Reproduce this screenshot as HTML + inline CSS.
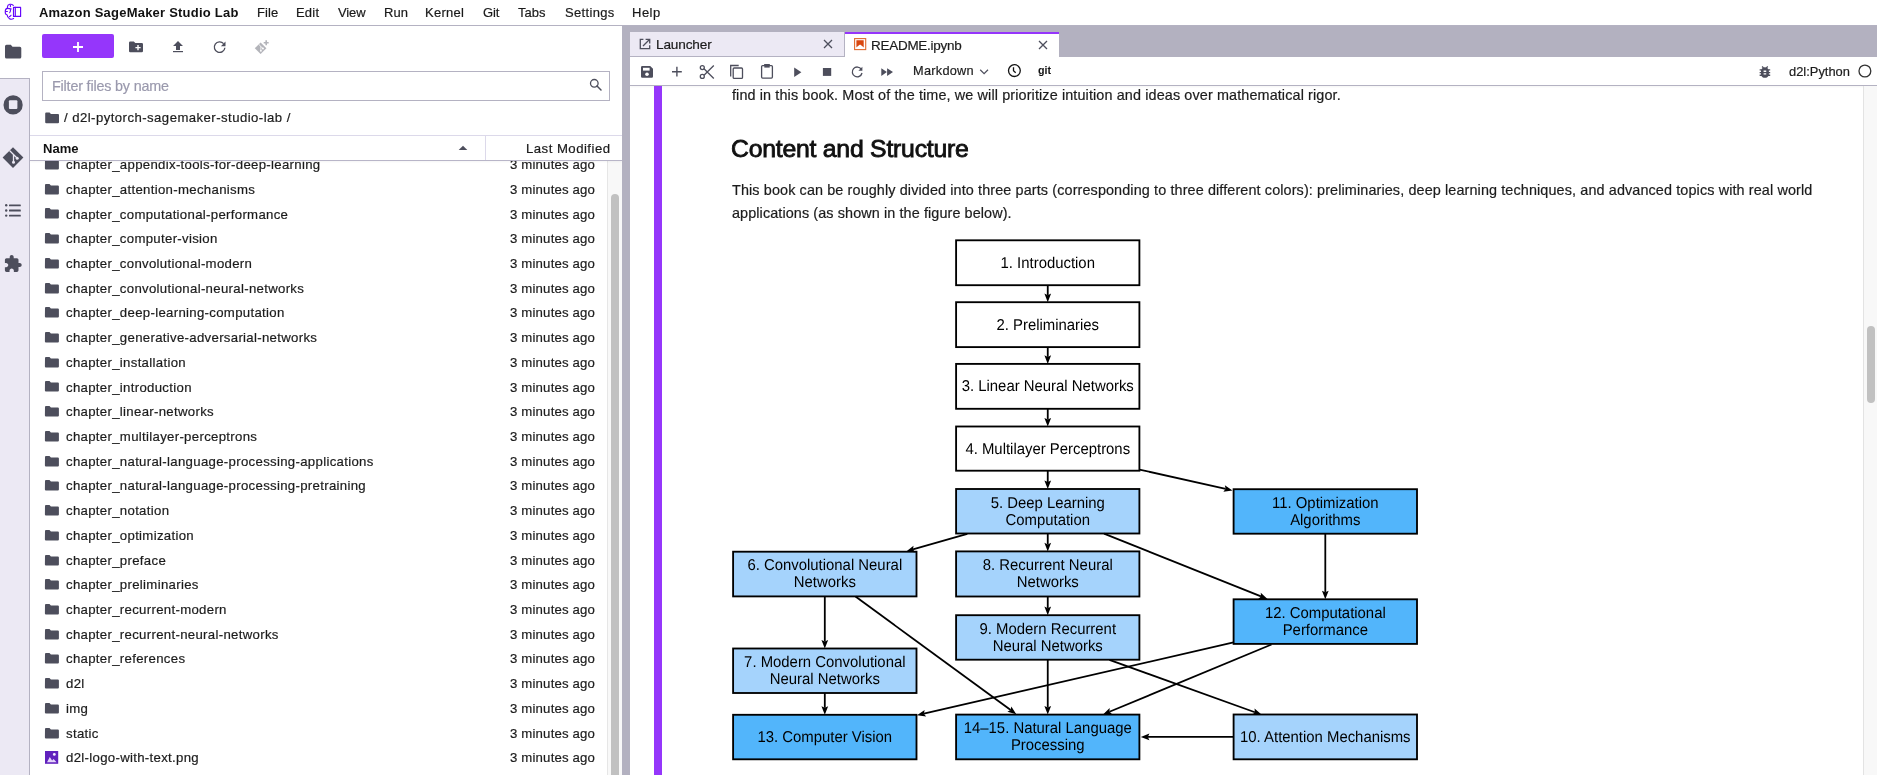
<!DOCTYPE html>
<html><head><meta charset="utf-8">
<style>
*{box-sizing:border-box;margin:0;padding:0}
html,body{width:1877px;height:775px;overflow:hidden;background:#fff;font-family:"Liberation Sans",sans-serif;color:#1f1f1f;position:relative;-webkit-font-smoothing:antialiased}
.a{position:absolute}
.t{position:absolute;white-space:nowrap;line-height:1;will-change:transform;-webkit-text-stroke:0.2px currentColor}
svg{position:absolute;overflow:visible}
.menu{font-size:13px;color:#222}
.fn{position:absolute;left:66.6px;font-size:13.4px;letter-spacing:0.2px;white-space:nowrap;color:#1e1e1e;line-height:1}
.fd{position:absolute;left:509.7px;font-size:13.4px;white-space:nowrap;color:#1e1e1e;letter-spacing:0.1px;line-height:1}
.ic{fill:#4d4e5c}
</style></head><body>
<!-- MENU BAR -->
<div class="a" style="left:0;top:25px;width:1877px;height:1px;background:#b4b2c2"></div>
<svg style="left:0;top:0" width="26" height="24" fill="none" stroke="#6405fb" stroke-width="1.15" stroke-linecap="round" stroke-linejoin="round">
  <path d="M13.3 5.4C12.3 4.5 11 4.1 9.8 4.3 8.4 4.6 7.5 5.6 7.4 7v1.4C6.2 8.6 5.3 9.6 5.3 11v2c0 .9.7 1.5 1.6 1.8l.3.3c0 1.6.9 2.8 2.3 3.6 1.2.7 2.8.6 4.1-.1"/>
  <path d="M10.4 5v1.6M7.4 8.4c1.4 0 2.8.1 3.8.6M5.8 11.5h1.6M10.3 9.4c.4 1 .4 2.2-.6 3.2M11 15.3c-.4.7-1 1.1-1.6 1.3"/>
  <rect x="13.5" y="7.4" width="7.1" height="9"/>
  <path d="M15.3 7.4v9"/>
</svg>
<!-- LEFT SIDEBAR -->
<div class="a" style="left:0;top:78px;width:30px;height:697px;background:#ece9f4;border-top:1px solid #b4b2c2;border-right:1px solid #b4b2c2"></div>
<svg style="left:0;top:26px" width="30" height="260" class="ic">
  <!-- folder -->
  <path d="M5 20.3a1.5 1.5 0 0 1 1.5-1.5h4.3l1.7 1.9h7.3a1.5 1.5 0 0 1 1.5 1.5v8.9a1.5 1.5 0 0 1-1.5 1.5h-13.3a1.5 1.5 0 0 1-1.5-1.5z"/>
  <!-- stop circle -->
  <circle cx="13.1" cy="78.9" r="9.6"/>
  <rect x="8.9" y="74.3" width="8.5" height="8.8" rx="1" fill="#ece9f4"/>
  <!-- git diamond -->
  <path d="M13 121.2l10.4 10.4-10.4 10.4-10.4-10.4z"/>
  <path d="M9.5 124.5l4 4M13.5 128.5v8M13.5 128.5l3.5 3.5" stroke="#ece9f4" stroke-width="1.3" fill="none"/>
  <circle cx="13.5" cy="136.3" r="1.5" fill="#ece9f4"/>
  <circle cx="17.2" cy="132.2" r="1.5" fill="#ece9f4"/>
  <!-- list -->
  <circle cx="6.2" cy="179.3" r="1.2"/><circle cx="6.2" cy="184.5" r="1.2"/><circle cx="6.2" cy="189.6" r="1.2"/>
  <rect x="9" y="178.4" width="11.8" height="1.9" rx=".5"/><rect x="9" y="183.6" width="11.8" height="1.9" rx=".5"/><rect x="9" y="188.7" width="11.8" height="1.9" rx=".5"/>
  <!-- puzzle -->
  <path transform="translate(3.3,228.3) scale(0.8)" d="M20.5 11H19V7c0-1.1-.9-2-2-2h-4V3.5C13 2.120 11.880 1 10.500 1S8 2.120 8 3.500V5H4c-1.100 0-1.990.9-1.990 2v3.800H3.500c1.490 0 2.700 1.210 2.700 2.700s-1.210 2.700-2.700 2.700H2V20c0 1.100.9 2 2 2h3.800v-1.500c0-1.490 1.210-2.700 2.700-2.700 1.490 0 2.700 1.210 2.700 2.700V22H17c1.100 0 2-.9 2-2v-4h1.500c1.380 0 2.500-1.120 2.500-2.500S21.880 11 20.500 11z"/>
</svg>
<!-- FILE BROWSER -->
<!-- launcher button -->
<div class="a" style="left:42px;top:34px;width:72px;height:24px;background:#9536fb;border-radius:2px"></div>
<svg style="left:71px;top:39.5px" width="14" height="14"><path d="M7 2v10M2 7h10" stroke="#fff" stroke-width="1.8"/></svg>
<svg style="left:0;top:0" width="300" height="60" class="ic">
  <!-- new folder -->
  <path d="M129 42.8a1.2 1.2 0 0 1 1.2-1.2h3.6l1.5 1.5h6.5a1.2 1.2 0 0 1 1.2 1.2v6.7a1.2 1.2 0 0 1-1.2 1.2h-11.6a1.2 1.2 0 0 1-1.2-1.2z"/>
  <path d="M138 45v5.2M135.4 47.6h5.2" stroke="#fff" stroke-width="1.4"/>
  <!-- upload -->
  <path d="M178 40.9l-5 5.2h3v4h4v-4h3z"/><rect x="173" y="51" width="10" height="1.2"/>
  <!-- refresh -->
  <path d="M223.6 43.6a5.3 5.3 0 1 0 1.3 4.1" fill="none" stroke="#4d4e5c" stroke-width="1.3"/>
  <path d="M225.5 41.6v4.6h-4.6z"/>
  <!-- git clone (disabled) -->
  <g opacity=".42"><g transform="translate(260.6,48.2) scale(0.56) translate(-13,-131.6)"><path d="M13 121.2l10.4 10.4-10.4 10.4-10.4-10.4z"/><path d="M9.5 124.5l4 4M13.5 128.5v8M13.5 128.5l3.5 3.5" stroke="#fff" stroke-width="1.5" fill="none"/><circle cx="13.5" cy="136.3" r="1.7" fill="#fff"/><circle cx="17.2" cy="132.2" r="1.7" fill="#fff"/></g><path d="M266.2 40.2v5M263.7 42.7h5" stroke="#4d4e5c" stroke-width="1.6"/></g>
</svg>
<!-- filter -->
<div class="a" style="left:42px;top:71px;width:568px;height:30px;border:1px solid #b4b2c2;background:#fff"></div>
<svg style="left:586px;top:76px" width="20" height="20"><circle cx="8.3" cy="7.3" r="3.8" fill="none" stroke="#4d4e5c" stroke-width="1.3"/><path d="M11 10l4 4" stroke="#4d4e5c" stroke-width="1.5" stroke-linecap="round"/></svg>
<!-- breadcrumb -->
<svg style="left:0;top:0" width="70" height="130" class="ic"><path d="M45.2 113.6a1 1 0 0 1 1-1h3.4l1.3 1.4h7.1a1 1 0 0 1 1 1v7.2a1 1 0 0 1-1 1h-11.8a1 1 0 0 1-1-1z"/></svg>
<!-- header -->
<div class="a" style="left:30px;top:135px;width:592px;height:1px;background:#dcd9ea"></div>
<div class="a" style="left:485px;top:136px;width:1px;height:24px;background:#dcd9ea"></div>
<svg style="left:458px;top:145px" width="10" height="6"><path d="M0.7 5h8.6L5 0.7z" fill="#4d4e5c"/></svg>

<div class="a" style="left:30px;top:160px;width:592px;height:615px;overflow:hidden">
<svg style="left:15.1px;top:-1.02px" width="15" height="11" class="ic"><path d="M0 1a1 1 0 0 1 1-1h3.5l1.4 1.4h7a1 1 0 0 1 1 1v7a1 1 0 0 1-1 1h-12a1 1 0 0 1-1-1z"/></svg>
<svg style="left:15.1px;top:23.70px" width="15" height="11" class="ic"><path d="M0 1a1 1 0 0 1 1-1h3.5l1.4 1.4h7a1 1 0 0 1 1 1v7a1 1 0 0 1-1 1h-12a1 1 0 0 1-1-1z"/></svg>
<svg style="left:15.1px;top:48.42px" width="15" height="11" class="ic"><path d="M0 1a1 1 0 0 1 1-1h3.5l1.4 1.4h7a1 1 0 0 1 1 1v7a1 1 0 0 1-1 1h-12a1 1 0 0 1-1-1z"/></svg>
<svg style="left:15.1px;top:73.14px" width="15" height="11" class="ic"><path d="M0 1a1 1 0 0 1 1-1h3.5l1.4 1.4h7a1 1 0 0 1 1 1v7a1 1 0 0 1-1 1h-12a1 1 0 0 1-1-1z"/></svg>
<svg style="left:15.1px;top:97.86px" width="15" height="11" class="ic"><path d="M0 1a1 1 0 0 1 1-1h3.5l1.4 1.4h7a1 1 0 0 1 1 1v7a1 1 0 0 1-1 1h-12a1 1 0 0 1-1-1z"/></svg>
<svg style="left:15.1px;top:122.58px" width="15" height="11" class="ic"><path d="M0 1a1 1 0 0 1 1-1h3.5l1.4 1.4h7a1 1 0 0 1 1 1v7a1 1 0 0 1-1 1h-12a1 1 0 0 1-1-1z"/></svg>
<svg style="left:15.1px;top:147.30px" width="15" height="11" class="ic"><path d="M0 1a1 1 0 0 1 1-1h3.5l1.4 1.4h7a1 1 0 0 1 1 1v7a1 1 0 0 1-1 1h-12a1 1 0 0 1-1-1z"/></svg>
<svg style="left:15.1px;top:172.02px" width="15" height="11" class="ic"><path d="M0 1a1 1 0 0 1 1-1h3.5l1.4 1.4h7a1 1 0 0 1 1 1v7a1 1 0 0 1-1 1h-12a1 1 0 0 1-1-1z"/></svg>
<svg style="left:15.1px;top:196.74px" width="15" height="11" class="ic"><path d="M0 1a1 1 0 0 1 1-1h3.5l1.4 1.4h7a1 1 0 0 1 1 1v7a1 1 0 0 1-1 1h-12a1 1 0 0 1-1-1z"/></svg>
<svg style="left:15.1px;top:221.46px" width="15" height="11" class="ic"><path d="M0 1a1 1 0 0 1 1-1h3.5l1.4 1.4h7a1 1 0 0 1 1 1v7a1 1 0 0 1-1 1h-12a1 1 0 0 1-1-1z"/></svg>
<svg style="left:15.1px;top:246.18px" width="15" height="11" class="ic"><path d="M0 1a1 1 0 0 1 1-1h3.5l1.4 1.4h7a1 1 0 0 1 1 1v7a1 1 0 0 1-1 1h-12a1 1 0 0 1-1-1z"/></svg>
<svg style="left:15.1px;top:270.90px" width="15" height="11" class="ic"><path d="M0 1a1 1 0 0 1 1-1h3.5l1.4 1.4h7a1 1 0 0 1 1 1v7a1 1 0 0 1-1 1h-12a1 1 0 0 1-1-1z"/></svg>
<svg style="left:15.1px;top:295.62px" width="15" height="11" class="ic"><path d="M0 1a1 1 0 0 1 1-1h3.5l1.4 1.4h7a1 1 0 0 1 1 1v7a1 1 0 0 1-1 1h-12a1 1 0 0 1-1-1z"/></svg>
<svg style="left:15.1px;top:320.34px" width="15" height="11" class="ic"><path d="M0 1a1 1 0 0 1 1-1h3.5l1.4 1.4h7a1 1 0 0 1 1 1v7a1 1 0 0 1-1 1h-12a1 1 0 0 1-1-1z"/></svg>
<svg style="left:15.1px;top:345.06px" width="15" height="11" class="ic"><path d="M0 1a1 1 0 0 1 1-1h3.5l1.4 1.4h7a1 1 0 0 1 1 1v7a1 1 0 0 1-1 1h-12a1 1 0 0 1-1-1z"/></svg>
<svg style="left:15.1px;top:369.78px" width="15" height="11" class="ic"><path d="M0 1a1 1 0 0 1 1-1h3.5l1.4 1.4h7a1 1 0 0 1 1 1v7a1 1 0 0 1-1 1h-12a1 1 0 0 1-1-1z"/></svg>
<svg style="left:15.1px;top:394.50px" width="15" height="11" class="ic"><path d="M0 1a1 1 0 0 1 1-1h3.5l1.4 1.4h7a1 1 0 0 1 1 1v7a1 1 0 0 1-1 1h-12a1 1 0 0 1-1-1z"/></svg>
<svg style="left:15.1px;top:419.22px" width="15" height="11" class="ic"><path d="M0 1a1 1 0 0 1 1-1h3.5l1.4 1.4h7a1 1 0 0 1 1 1v7a1 1 0 0 1-1 1h-12a1 1 0 0 1-1-1z"/></svg>
<svg style="left:15.1px;top:443.94px" width="15" height="11" class="ic"><path d="M0 1a1 1 0 0 1 1-1h3.5l1.4 1.4h7a1 1 0 0 1 1 1v7a1 1 0 0 1-1 1h-12a1 1 0 0 1-1-1z"/></svg>
<svg style="left:15.1px;top:468.66px" width="15" height="11" class="ic"><path d="M0 1a1 1 0 0 1 1-1h3.5l1.4 1.4h7a1 1 0 0 1 1 1v7a1 1 0 0 1-1 1h-12a1 1 0 0 1-1-1z"/></svg>
<svg style="left:15.1px;top:493.38px" width="15" height="11" class="ic"><path d="M0 1a1 1 0 0 1 1-1h3.5l1.4 1.4h7a1 1 0 0 1 1 1v7a1 1 0 0 1-1 1h-12a1 1 0 0 1-1-1z"/></svg>
<svg style="left:15.1px;top:518.10px" width="15" height="11" class="ic"><path d="M0 1a1 1 0 0 1 1-1h3.5l1.4 1.4h7a1 1 0 0 1 1 1v7a1 1 0 0 1-1 1h-12a1 1 0 0 1-1-1z"/></svg>
<svg style="left:15.1px;top:542.82px" width="15" height="11" class="ic"><path d="M0 1a1 1 0 0 1 1-1h3.5l1.4 1.4h7a1 1 0 0 1 1 1v7a1 1 0 0 1-1 1h-12a1 1 0 0 1-1-1z"/></svg>
<svg style="left:15.1px;top:567.54px" width="15" height="11" class="ic"><path d="M0 1a1 1 0 0 1 1-1h3.5l1.4 1.4h7a1 1 0 0 1 1 1v7a1 1 0 0 1-1 1h-12a1 1 0 0 1-1-1z"/></svg>
<svg style="left:15.3px;top:590.76px" width="14" height="14"><rect x="0" y="0" width="13.2" height="12.8" fill="#6021bd"/><circle cx="9.3" cy="3.4" r="1.4" fill="#f4ecff"/><path d="M2 11.2l2.8-5.3 2.3 3.6 1.5-1.5 3 3.2z" fill="#e3d4fa"/></svg>
<div class="a" style="left:577px;top:0;width:15px;height:615px;background:#f8f8f8;border-left:1px solid #e6e6e6"></div>
<div class="a" style="left:581px;top:34px;width:8px;height:640px;background:#c1c1c1;border-radius:4px"></div>
</div>
<div class="a" style="left:30px;top:160px;width:592px;height:1px;background:#b8b5c8;box-shadow:0 1px 2px rgba(0,0,0,0.06)"></div><!-- SPLITTER / MAIN -->
<div class="a" style="left:622px;top:26px;width:8px;height:749px;background:#b3b1c0"></div>
<div class="a" style="left:630px;top:26px;width:1247px;height:31px;background:#b3b1c0"></div>
<!-- launcher tab -->
<div class="a" style="left:630px;top:32px;width:215px;height:25px;background:#ece9f4;border-right:1px solid #b4b2c2;border-bottom:1px solid #b4b2c2"></div>
<svg style="left:639px;top:38px" width="12" height="12" fill="none" stroke="#4d4e5c" stroke-width="1.3">
  <path d="M4.4 1.3H1.3v9.4h9.4V7.2"/><path d="M6.6 1.3h4.1v4.1M10.5 1.5L4 8"/>
</svg>
<svg style="left:823px;top:38.8px" width="10" height="10"><path d="M1 1l8 8M9 1l-8 8" stroke="#4d4e5c" stroke-width="1.3"/></svg>
<!-- README tab -->
<div class="a" style="left:845px;top:32px;width:214px;height:25px;background:#fff;border-top:2px solid #9536fb"></div>
<svg style="left:853.5px;top:38px" width="13" height="12">
  <rect x=".6" y=".6" width="11.1" height="11" fill="none" stroke="#e06a2f" stroke-width="1.1"/>
  <path d="M2.4 2.3h7.3v7.3L8.1 8.1 6.05 6.6 4 8.1 2.4 9.6z" fill="#d9470f"/>
</svg>
<svg style="left:1038px;top:40px" width="10" height="10"><path d="M1 1l8 8M9 1l-8 8" stroke="#4d4e5c" stroke-width="1.3"/></svg>
<!-- toolbar -->
<div class="a" style="left:630px;top:85px;width:1247px;height:1px;background:#b4b2c2;box-shadow:0 1px 2px rgba(0,0,0,0.06)"></div>
<svg style="left:0;top:0" width="1100" height="90" class="ic">
  <!-- save -->
  <path d="M641 67.2a1.2 1.2 0 0 1 1.2-1.2h8l2.8 2.8v7.8a1.2 1.2 0 0 1-1.2 1.2h-9.6a1.2 1.2 0 0 1-1.2-1.2z"/>
  <rect x="643" y="67.8" width="6.6" height="2.8" fill="#fff"/>
  <circle cx="647" cy="74.2" r="1.8" fill="#fff"/>
  <!-- plus -->
  <path d="M676.9 66.8v9.8M672 71.7h9.8" stroke="#4d4e5c" stroke-width="1.4"/>
  <!-- scissors -->
  <g fill="none" stroke="#4d4e5c" stroke-width="1.3">
    <circle cx="702.3" cy="67.6" r="2"/><circle cx="702.3" cy="76.4" r="2"/>
    <path d="M704 68.8L713.8 78.5M704 75.2L713.8 65.5"/>
  </g>
  <!-- copy -->
  <g fill="none" stroke="#4d4e5c" stroke-width="1.3">
    <path d="M730.7 76.5V65.5h8"/><rect x="733.2" y="68" width="9.3" height="10.4" rx="1"/>
  </g>
  <!-- paste -->
  <g fill="none" stroke="#4d4e5c" stroke-width="1.3">
    <rect x="761.6" y="65.6" width="10.8" height="12.5" rx="1"/>
    <path d="M764.8 65.6v-1h4.4v1" /><path d="M764.3 66.8h5.4" stroke-width="1.6"/>
  </g>
  <!-- run -->
  <path d="M794.2 67.5l7.2 4.7-7.2 4.8z"/>
  <!-- stop -->
  <rect x="822.9" y="68" width="8.3" height="7.9"/>
  <!-- restart -->
  <path d="M861.3 69.2a4.9 4.9 0 1 0 .7 3.8" fill="none" stroke="#4d4e5c" stroke-width="1.3"/>
  <path d="M862.4 66.8v4h-4z"/>
  <!-- fast forward -->
  <path d="M881.3 68.3l5.6 3.8-5.6 3.8zM887.1 68.3l5.9 3.8-5.9 3.8z"/>
  <!-- chevron -->
  <path d="M980.2 69.8l3.9 3.8 3.9-3.8" fill="none" stroke="#4d4e5c" stroke-width="1.2"/>
  <!-- clock -->
  <g fill="none" stroke="#111" stroke-width="1.3"><circle cx="1014.4" cy="70.6" r="5.9"/><path d="M1013.5 67.2v3.6l2.2 2"/></g>
</svg>
<svg style="left:1757.06px;top:63.92px" width="16" height="16"><path transform="scale(0.66)" fill="#4d4e5c" d="M20 8h-2.81c-.45-.78-1.07-1.45-1.82-1.96L17 4.410 15.59 3l-2.170 2.170C12.96 5.060 12.49 5 12 5c-.49 0-.96.06-1.41.17L8.410 3 7 4.410l1.620 1.630C7.880 6.550 7.260 7.220 6.810 8H4v2h2.090c-.05.33-.09.66-.09 1v1H4v2h2v1c0 .34.04.67.09 1H4v2h2.810c1.040 1.790 2.970 3 5.190 3s4.150-1.210 5.190-3H20v-2h-2.090c.05-.33.09-.66.09-1v-1h2v-2h-2v-1c0-.34-.04-.67-.09-1H20V8zm-6 8h-4v-2h4v2zm0-4h-4v-2h4v2z"/></svg>
<svg style="left:1857px;top:64px" width="16" height="16"><circle cx="7.9" cy="7" r="5.9" fill="none" stroke="#333" stroke-width="1.3"/></svg>
<!-- notebook scrollbar -->
<div class="a" style="left:1863px;top:86px;width:14px;height:689px;background:#f8f8f8;border-left:1px solid #e3e3e3"></div>
<div class="a" style="left:1867px;top:325.5px;width:8px;height:77.5px;background:#c1c1c1;border-radius:4px"></div>
<!-- cell active bar -->
<div class="a" style="left:654px;top:86px;width:8px;height:689px;background:#9536fb"></div>
<!-- text -->
<svg style="left:0;top:0;will-change:transform" width="1877" height="775" text-rendering="geometricPrecision">
<rect x="956.1" y="240.3" width="183.30" height="44.90" fill="#ffffff" stroke="#000" stroke-width="1.85"/>
<rect x="956.1" y="302.2" width="183.30" height="44.90" fill="#ffffff" stroke="#000" stroke-width="1.85"/>
<rect x="956.1" y="363.9" width="183.30" height="44.90" fill="#ffffff" stroke="#000" stroke-width="1.85"/>
<rect x="956.1" y="426.5" width="183.30" height="44.20" fill="#ffffff" stroke="#000" stroke-width="1.85"/>
<rect x="956.1" y="489.0" width="183.30" height="44.50" fill="#a5d3fc" stroke="#000" stroke-width="1.85"/>
<rect x="1233.6" y="489.2" width="183.40" height="44.50" fill="#52b5fb" stroke="#000" stroke-width="1.85"/>
<rect x="733.1" y="551.7" width="183.40" height="44.70" fill="#a5d3fc" stroke="#000" stroke-width="1.85"/>
<rect x="956.1" y="551.4" width="183.30" height="45.10" fill="#a5d3fc" stroke="#000" stroke-width="1.85"/>
<rect x="956.1" y="615.2" width="183.30" height="44.50" fill="#a5d3fc" stroke="#000" stroke-width="1.85"/>
<rect x="1233.6" y="599.3" width="183.40" height="44.60" fill="#52b5fb" stroke="#000" stroke-width="1.85"/>
<rect x="733.1" y="648.5" width="183.40" height="44.50" fill="#a5d3fc" stroke="#000" stroke-width="1.85"/>
<rect x="733.1" y="714.8" width="183.40" height="44.50" fill="#52b5fb" stroke="#000" stroke-width="1.85"/>
<rect x="956.1" y="714.6" width="183.30" height="44.70" fill="#52b5fb" stroke="#000" stroke-width="1.85"/>
<rect x="1233.6" y="714.5" width="183.40" height="44.80" fill="#a5d3fc" stroke="#000" stroke-width="1.85"/>
<path d="M1047.75 285.20L1047.75 295.20" stroke="#000" stroke-width="1.8" fill="none"/>
<path d="M1047.75 302.20L1044.40 293.60L1047.75 295.20L1051.10 293.60z" fill="#000"/>
<path d="M1047.75 347.10L1047.75 356.90" stroke="#000" stroke-width="1.8" fill="none"/>
<path d="M1047.75 363.90L1044.40 355.30L1047.75 356.90L1051.10 355.30z" fill="#000"/>
<path d="M1047.75 408.80L1047.75 419.50" stroke="#000" stroke-width="1.8" fill="none"/>
<path d="M1047.75 426.50L1044.40 417.90L1047.75 419.50L1051.10 417.90z" fill="#000"/>
<path d="M1047.75 470.70L1047.75 482.00" stroke="#000" stroke-width="1.8" fill="none"/>
<path d="M1047.75 489.00L1044.40 480.40L1047.75 482.00L1051.10 480.40z" fill="#000"/>
<path d="M1047.75 533.50L1047.75 544.40" stroke="#000" stroke-width="1.8" fill="none"/>
<path d="M1047.75 551.40L1044.40 542.80L1047.75 544.40L1051.10 542.80z" fill="#000"/>
<path d="M1047.75 596.50L1047.75 608.20" stroke="#000" stroke-width="1.8" fill="none"/>
<path d="M1047.75 615.20L1044.40 606.60L1047.75 608.20L1051.10 606.60z" fill="#000"/>
<path d="M1047.75 659.70L1047.75 707.60" stroke="#000" stroke-width="1.8" fill="none"/>
<path d="M1047.75 714.60L1044.40 706.00L1047.75 707.60L1051.10 706.00z" fill="#000"/>
<path d="M824.80 596.40L824.80 641.50" stroke="#000" stroke-width="1.8" fill="none"/>
<path d="M824.80 648.50L821.45 639.90L824.80 641.50L828.15 639.90z" fill="#000"/>
<path d="M824.80 693.00L824.80 707.80" stroke="#000" stroke-width="1.8" fill="none"/>
<path d="M824.80 714.80L821.45 706.20L824.80 707.80L828.15 706.20z" fill="#000"/>
<path d="M1325.30 533.70L1325.30 592.30" stroke="#000" stroke-width="1.8" fill="none"/>
<path d="M1325.30 599.30L1321.95 590.70L1325.30 592.30L1328.65 590.70z" fill="#000"/>
<path d="M1139.50 469.60L1225.67 488.87" stroke="#000" stroke-width="1.8" fill="none"/>
<path d="M1232.50 490.40L1223.38 491.79L1225.67 488.87L1224.84 485.25z" fill="#000"/>
<path d="M967.30 533.80L912.93 549.46" stroke="#000" stroke-width="1.8" fill="none"/>
<path d="M906.20 551.40L913.54 545.80L912.93 549.46L915.39 552.24z" fill="#000"/>
<path d="M1104.00 533.70L1261.00 596.40" stroke="#000" stroke-width="1.8" fill="none"/>
<path d="M1267.50 599.00L1258.27 598.92L1261.00 596.40L1260.76 592.70z" fill="#000"/>
<path d="M855.50 596.60L1010.65 710.07" stroke="#000" stroke-width="1.8" fill="none"/>
<path d="M1016.30 714.20L1007.38 711.83L1010.65 710.07L1011.34 706.42z" fill="#000"/>
<path d="M1109.40 659.90L1254.91 712.23" stroke="#000" stroke-width="1.8" fill="none"/>
<path d="M1261.50 714.60L1252.27 714.84L1254.91 712.23L1254.54 708.54z" fill="#000"/>
<path d="M1233.50 642.40L923.82 713.63" stroke="#000" stroke-width="1.8" fill="none"/>
<path d="M917.00 715.20L924.63 710.01L923.82 713.63L926.13 716.54z" fill="#000"/>
<path d="M1271.50 644.50L1109.47 711.72" stroke="#000" stroke-width="1.8" fill="none"/>
<path d="M1103.00 714.40L1109.66 708.01L1109.47 711.72L1112.23 714.20z" fill="#000"/>
<path d="M1233.60 736.90L1147.80 736.90" stroke="#000" stroke-width="1.8" fill="none"/>
<path d="M1140.80 736.90L1149.40 733.55L1147.80 736.90L1149.40 740.25z" fill="#000"/>
<text transform="translate(1047.75,267.70) scale(1,1.05)" font-family="Liberation Sans" font-size="14.9" text-anchor="middle" fill="#000">1. Introduction</text>
<text transform="translate(1047.75,329.60) scale(1,1.05)" font-family="Liberation Sans" font-size="14.9" text-anchor="middle" fill="#000">2. Preliminaries</text>
<text transform="translate(1047.75,391.10) scale(1,1.05)" font-family="Liberation Sans" font-size="14.9" text-anchor="middle" fill="#000">3. Linear Neural Networks</text>
<text transform="translate(1047.75,453.70) scale(1,1.05)" font-family="Liberation Sans" font-size="14.9" text-anchor="middle" fill="#000">4. Multilayer Perceptrons</text>
<text transform="translate(1047.75,507.90) scale(1,1.05)" font-family="Liberation Sans" font-size="14.9" text-anchor="middle" fill="#000">5. Deep Learning</text>
<text transform="translate(1047.75,525.00) scale(1,1.05)" font-family="Liberation Sans" font-size="14.9" text-anchor="middle" fill="#000">Computation</text>
<text transform="translate(1325.30,507.80) scale(1,1.05)" font-family="Liberation Sans" font-size="14.9" text-anchor="middle" fill="#000">11. Optimization</text>
<text transform="translate(1325.30,524.90) scale(1,1.05)" font-family="Liberation Sans" font-size="14.9" text-anchor="middle" fill="#000">Algorithms</text>
<text transform="translate(824.80,569.80) scale(1,1.05)" font-family="Liberation Sans" font-size="14.9" text-anchor="middle" fill="#000">6. Convolutional Neural</text>
<text transform="translate(824.80,586.90) scale(1,1.05)" font-family="Liberation Sans" font-size="14.9" text-anchor="middle" fill="#000">Networks</text>
<text transform="translate(1047.75,570.20) scale(1,1.05)" font-family="Liberation Sans" font-size="14.9" text-anchor="middle" fill="#000">8. Recurrent Neural</text>
<text transform="translate(1047.75,587.30) scale(1,1.05)" font-family="Liberation Sans" font-size="14.9" text-anchor="middle" fill="#000">Networks</text>
<text transform="translate(1047.75,633.60) scale(1,1.05)" font-family="Liberation Sans" font-size="14.9" text-anchor="middle" fill="#000">9. Modern Recurrent</text>
<text transform="translate(1047.75,650.70) scale(1,1.05)" font-family="Liberation Sans" font-size="14.9" text-anchor="middle" fill="#000">Neural Networks</text>
<text transform="translate(1325.30,617.70) scale(1,1.05)" font-family="Liberation Sans" font-size="14.9" text-anchor="middle" fill="#000">12. Computational</text>
<text transform="translate(1325.30,634.80) scale(1,1.05)" font-family="Liberation Sans" font-size="14.9" text-anchor="middle" fill="#000">Performance</text>
<text transform="translate(824.80,666.80) scale(1,1.05)" font-family="Liberation Sans" font-size="14.9" text-anchor="middle" fill="#000">7. Modern Convolutional</text>
<text transform="translate(824.80,683.90) scale(1,1.05)" font-family="Liberation Sans" font-size="14.9" text-anchor="middle" fill="#000">Neural Networks</text>
<text transform="translate(824.80,741.90) scale(1,1.05)" font-family="Liberation Sans" font-size="14.9" text-anchor="middle" fill="#000">13. Computer Vision</text>
<text transform="translate(1047.75,733.00) scale(1,1.05)" font-family="Liberation Sans" font-size="14.9" text-anchor="middle" fill="#000">14–15. Natural Language</text>
<text transform="translate(1047.75,750.10) scale(1,1.05)" font-family="Liberation Sans" font-size="14.9" text-anchor="middle" fill="#000">Processing</text>
<text transform="translate(1325.30,741.80) scale(1,1.05)" font-family="Liberation Sans" font-size="14.9" text-anchor="middle" fill="#000">10. Attention Mechanisms</text>
</svg><div class="t" style="left:39.2px;top:7px;font-size:12.971px;letter-spacing:0.238px;font-weight:700;color:#111;-webkit-text-stroke:0">Amazon SageMaker Studio Lab</div>
<div class="t" style="left:256.7px;top:7px;font-size:12.971px;letter-spacing:0.105px;font-weight:400;color:#1a1a1a;">File</div>
<div class="t" style="left:295.6px;top:7px;font-size:12.971px;letter-spacing:0.219px;font-weight:400;color:#1a1a1a;">Edit</div>
<div class="t" style="left:337.8px;top:7px;font-size:12.971px;letter-spacing:-0.103px;font-weight:400;color:#1a1a1a;">View</div>
<div class="t" style="left:383.6px;top:7px;font-size:12.971px;letter-spacing:0.111px;font-weight:400;color:#1a1a1a;">Run</div>
<div class="t" style="left:425.4px;top:7px;font-size:12.971px;letter-spacing:0.259px;font-weight:400;color:#1a1a1a;">Kernel</div>
<div class="t" style="left:482.9px;top:7px;font-size:12.971px;letter-spacing:-0.084px;font-weight:400;color:#1a1a1a;">Git</div>
<div class="t" style="left:518.3px;top:7px;font-size:12.971px;letter-spacing:0.03px;font-weight:400;color:#1a1a1a;">Tabs</div>
<div class="t" style="left:564.6px;top:7px;font-size:12.971px;letter-spacing:0.346px;font-weight:400;color:#1a1a1a;">Settings</div>
<div class="t" style="left:632px;top:7px;font-size:12.971px;letter-spacing:0.514px;font-weight:400;color:#1a1a1a;">Help</div>
<div class="t" style="left:52px;top:79px;font-size:14.348px;letter-spacing:-0.172px;font-weight:400;color:#9a99ad;">Filter files by name</div>
<div class="t" style="left:63.9px;top:111px;font-size:13.151px;letter-spacing:0.457px;font-weight:400;color:#1c1c1c;">/ d2l-pytorch-sagemaker-studio-lab /</div>
<div class="t" style="left:42.9px;top:142px;font-size:13.043px;letter-spacing:-0.015px;font-weight:700;color:#111;-webkit-text-stroke:0">Name</div>
<div class="t" style="left:525.5px;top:142px;font-size:13.188px;letter-spacing:0.474px;font-weight:400;color:#1a1a1a;">Last Modified</div>
<div class="t" style="left:656.2px;top:38px;font-size:13.623px;letter-spacing:-0.145px;font-weight:400;color:#1c1c1c;">Launcher</div>
<div class="t" style="left:871px;top:39px;font-size:13.478px;letter-spacing:-0.261px;font-weight:400;color:#1c1c1c;">README.ipynb</div>
<div class="t" style="left:912.6px;top:65px;font-size:12.754px;letter-spacing:0.268px;font-weight:400;color:#1c1c1c;">Markdown</div>
<div class="t" style="left:1037.7px;top:65px;font-size:10.685px;letter-spacing:-0.042px;font-weight:700;color:#111;-webkit-text-stroke:0">git</div>
<div class="t" style="left:1789.3px;top:66px;font-size:12.899px;letter-spacing:0.013px;font-weight:400;color:#1c1c1c;">d2l:Python</div>
<div class="t" style="left:731.9px;top:88px;font-size:14.4px;letter-spacing:0.121px;font-weight:400;color:#1c1c1c;">find in this book. Most of the time, we will prioritize intuition and ideas over mathematical rigor.</div>
<div class="t" style="left:731.2px;top:137px;font-size:24.783px;letter-spacing:-0.226px;font-weight:400;color:#111;-webkit-text-stroke:0.85px #111">Content and Structure</div>
<div class="t" style="left:731.6px;top:183px;font-size:14.4px;letter-spacing:0.118px;font-weight:400;color:#1c1c1c;">This book can be roughly divided into three parts (corresponding to three different colors): preliminaries, deep learning techniques, and advanced topics with real world</div>
<div class="t" style="left:731.6px;top:206px;font-size:14.4px;letter-spacing:0.103px;font-weight:400;color:#1c1c1c;">applications (as shown in the figure below).</div>
<div class="a" style="left:30px;top:161px;width:577px;height:614px;overflow:hidden"><div class="a" style="left:-30px;top:-161px;width:607px;height:775px">
<div class="t" style="left:65.7px;top:158px;font-size:13.2px;letter-spacing:0.315px;font-weight:400;color:#1c1c1c;">chapter_appendix-tools-for-deep-learning</div>
<div class="t" style="left:509.7px;top:158px;font-size:13.2px;letter-spacing:0.174px;font-weight:400;color:#1c1c1c;">3 minutes ago</div>
<div class="t" style="left:65.7px;top:183px;font-size:13.2px;letter-spacing:0.315px;font-weight:400;color:#1c1c1c;">chapter_attention-mechanisms</div>
<div class="t" style="left:509.7px;top:183px;font-size:13.2px;letter-spacing:0.174px;font-weight:400;color:#1c1c1c;">3 minutes ago</div>
<div class="t" style="left:65.7px;top:208px;font-size:13.2px;letter-spacing:0.315px;font-weight:400;color:#1c1c1c;">chapter_computational-performance</div>
<div class="t" style="left:509.7px;top:208px;font-size:13.2px;letter-spacing:0.174px;font-weight:400;color:#1c1c1c;">3 minutes ago</div>
<div class="t" style="left:65.7px;top:232px;font-size:13.2px;letter-spacing:0.315px;font-weight:400;color:#1c1c1c;">chapter_computer-vision</div>
<div class="t" style="left:509.7px;top:232px;font-size:13.2px;letter-spacing:0.174px;font-weight:400;color:#1c1c1c;">3 minutes ago</div>
<div class="t" style="left:65.7px;top:257px;font-size:13.2px;letter-spacing:0.315px;font-weight:400;color:#1c1c1c;">chapter_convolutional-modern</div>
<div class="t" style="left:509.7px;top:257px;font-size:13.2px;letter-spacing:0.174px;font-weight:400;color:#1c1c1c;">3 minutes ago</div>
<div class="t" style="left:65.7px;top:282px;font-size:13.2px;letter-spacing:0.315px;font-weight:400;color:#1c1c1c;">chapter_convolutional-neural-networks</div>
<div class="t" style="left:509.7px;top:282px;font-size:13.2px;letter-spacing:0.174px;font-weight:400;color:#1c1c1c;">3 minutes ago</div>
<div class="t" style="left:65.7px;top:306px;font-size:13.2px;letter-spacing:0.315px;font-weight:400;color:#1c1c1c;">chapter_deep-learning-computation</div>
<div class="t" style="left:509.7px;top:306px;font-size:13.2px;letter-spacing:0.174px;font-weight:400;color:#1c1c1c;">3 minutes ago</div>
<div class="t" style="left:65.7px;top:331px;font-size:13.2px;letter-spacing:0.315px;font-weight:400;color:#1c1c1c;">chapter_generative-adversarial-networks</div>
<div class="t" style="left:509.7px;top:331px;font-size:13.2px;letter-spacing:0.174px;font-weight:400;color:#1c1c1c;">3 minutes ago</div>
<div class="t" style="left:65.7px;top:356px;font-size:13.2px;letter-spacing:0.315px;font-weight:400;color:#1c1c1c;">chapter_installation</div>
<div class="t" style="left:509.7px;top:356px;font-size:13.2px;letter-spacing:0.174px;font-weight:400;color:#1c1c1c;">3 minutes ago</div>
<div class="t" style="left:65.7px;top:381px;font-size:13.2px;letter-spacing:0.315px;font-weight:400;color:#1c1c1c;">chapter_introduction</div>
<div class="t" style="left:509.7px;top:381px;font-size:13.2px;letter-spacing:0.174px;font-weight:400;color:#1c1c1c;">3 minutes ago</div>
<div class="t" style="left:65.7px;top:405px;font-size:13.2px;letter-spacing:0.315px;font-weight:400;color:#1c1c1c;">chapter_linear-networks</div>
<div class="t" style="left:509.7px;top:405px;font-size:13.2px;letter-spacing:0.174px;font-weight:400;color:#1c1c1c;">3 minutes ago</div>
<div class="t" style="left:65.7px;top:430px;font-size:13.2px;letter-spacing:0.315px;font-weight:400;color:#1c1c1c;">chapter_multilayer-perceptrons</div>
<div class="t" style="left:509.7px;top:430px;font-size:13.2px;letter-spacing:0.174px;font-weight:400;color:#1c1c1c;">3 minutes ago</div>
<div class="t" style="left:65.7px;top:455px;font-size:13.2px;letter-spacing:0.315px;font-weight:400;color:#1c1c1c;">chapter_natural-language-processing-applications</div>
<div class="t" style="left:509.7px;top:455px;font-size:13.2px;letter-spacing:0.174px;font-weight:400;color:#1c1c1c;">3 minutes ago</div>
<div class="t" style="left:65.7px;top:479px;font-size:13.2px;letter-spacing:0.315px;font-weight:400;color:#1c1c1c;">chapter_natural-language-processing-pretraining</div>
<div class="t" style="left:509.7px;top:479px;font-size:13.2px;letter-spacing:0.174px;font-weight:400;color:#1c1c1c;">3 minutes ago</div>
<div class="t" style="left:65.7px;top:504px;font-size:13.2px;letter-spacing:0.315px;font-weight:400;color:#1c1c1c;">chapter_notation</div>
<div class="t" style="left:509.7px;top:504px;font-size:13.2px;letter-spacing:0.174px;font-weight:400;color:#1c1c1c;">3 minutes ago</div>
<div class="t" style="left:65.7px;top:529px;font-size:13.2px;letter-spacing:0.315px;font-weight:400;color:#1c1c1c;">chapter_optimization</div>
<div class="t" style="left:509.7px;top:529px;font-size:13.2px;letter-spacing:0.174px;font-weight:400;color:#1c1c1c;">3 minutes ago</div>
<div class="t" style="left:65.7px;top:554px;font-size:13.2px;letter-spacing:0.315px;font-weight:400;color:#1c1c1c;">chapter_preface</div>
<div class="t" style="left:509.7px;top:554px;font-size:13.2px;letter-spacing:0.174px;font-weight:400;color:#1c1c1c;">3 minutes ago</div>
<div class="t" style="left:65.7px;top:578px;font-size:13.2px;letter-spacing:0.315px;font-weight:400;color:#1c1c1c;">chapter_preliminaries</div>
<div class="t" style="left:509.7px;top:578px;font-size:13.2px;letter-spacing:0.174px;font-weight:400;color:#1c1c1c;">3 minutes ago</div>
<div class="t" style="left:65.7px;top:603px;font-size:13.2px;letter-spacing:0.315px;font-weight:400;color:#1c1c1c;">chapter_recurrent-modern</div>
<div class="t" style="left:509.7px;top:603px;font-size:13.2px;letter-spacing:0.174px;font-weight:400;color:#1c1c1c;">3 minutes ago</div>
<div class="t" style="left:65.7px;top:628px;font-size:13.2px;letter-spacing:0.315px;font-weight:400;color:#1c1c1c;">chapter_recurrent-neural-networks</div>
<div class="t" style="left:509.7px;top:628px;font-size:13.2px;letter-spacing:0.174px;font-weight:400;color:#1c1c1c;">3 minutes ago</div>
<div class="t" style="left:65.7px;top:652px;font-size:13.2px;letter-spacing:0.315px;font-weight:400;color:#1c1c1c;">chapter_references</div>
<div class="t" style="left:509.7px;top:652px;font-size:13.2px;letter-spacing:0.174px;font-weight:400;color:#1c1c1c;">3 minutes ago</div>
<div class="t" style="left:65.7px;top:677px;font-size:13.2px;letter-spacing:0.315px;font-weight:400;color:#1c1c1c;">d2l</div>
<div class="t" style="left:509.7px;top:677px;font-size:13.2px;letter-spacing:0.174px;font-weight:400;color:#1c1c1c;">3 minutes ago</div>
<div class="t" style="left:65.7px;top:702px;font-size:13.2px;letter-spacing:0.315px;font-weight:400;color:#1c1c1c;">img</div>
<div class="t" style="left:509.7px;top:702px;font-size:13.2px;letter-spacing:0.174px;font-weight:400;color:#1c1c1c;">3 minutes ago</div>
<div class="t" style="left:65.7px;top:727px;font-size:13.2px;letter-spacing:0.315px;font-weight:400;color:#1c1c1c;">static</div>
<div class="t" style="left:509.7px;top:727px;font-size:13.2px;letter-spacing:0.174px;font-weight:400;color:#1c1c1c;">3 minutes ago</div>
<div class="t" style="left:65.7px;top:751px;font-size:13.2px;letter-spacing:0.315px;font-weight:400;color:#1c1c1c;">d2l-logo-with-text.png</div>
<div class="t" style="left:509.7px;top:751px;font-size:13.2px;letter-spacing:0.174px;font-weight:400;color:#1c1c1c;">3 minutes ago</div>
</div></div>
</body></html>
